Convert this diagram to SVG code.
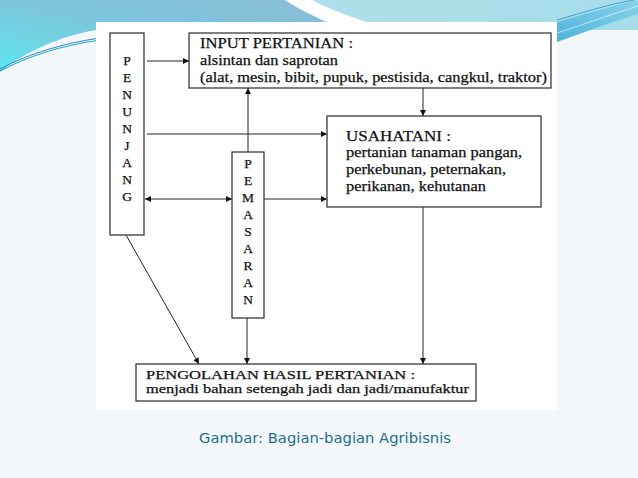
<svg xmlns="http://www.w3.org/2000/svg" width="638" height="478" viewBox="0 0 638 478">
<style>
.box{fill:#fff;stroke:#3a3a3a;stroke-width:1.3}
.t{font-family:"Liberation Serif","Times New Roman",serif;font-size:14.5px;fill:#111;stroke:#111;stroke-width:0.25}
.s{font-size:13.5px}
.v{font-family:"Liberation Serif","Times New Roman",serif;font-size:13.5px;fill:#111;stroke:#111;stroke-width:0.25;text-anchor:middle}
.c{stroke:#222;stroke-width:1;fill:none}
.cap{font-family:"DejaVu Sans",Verdana,sans-serif;font-size:13.5px;fill:#1f6f8c}
</style>
<defs>
<linearGradient id="gl" x1="0" y1="1" x2="1" y2="0">
<stop offset="0" stop-color="#5ee6ef"/>
<stop offset="0.5" stop-color="#7cc6dc"/>
<stop offset="1" stop-color="#8dbcd6"/>
</linearGradient>
<linearGradient id="gr" x1="0" y1="0" x2="1" y2="0">
<stop offset="0" stop-color="#b6e2ec"/>
<stop offset="1" stop-color="#a6dde9"/>
</linearGradient>
<linearGradient id="gs" x1="0" y1="1" x2="1" y2="0">
<stop offset="0" stop-color="#4fb3dc"/>
<stop offset="1" stop-color="#86d3ea"/>
</linearGradient>
<marker id="ah" viewBox="0 0 10 10" refX="10" refY="5" markerWidth="7" markerHeight="6" markerUnits="userSpaceOnUse" orient="auto-start-reverse">
<path d="M0,0 L10,5 L0,10 Z" fill="#111"/>
</marker>
</defs>
<rect width="638" height="478" fill="#f3f7fa"/>
<rect x="0" y="0" width="638" height="30" fill="url(#gr)"/>
<path d="M0,0 H290 C300,8 320,20 340,30 L96,30 C60,36 25,52 0,72 Z" fill="url(#gl)"/>
<path d="M285,0 H312 C330,10 360,20 390,30 L350,30 C320,20 300,10 285,0 Z" fill="#ffffff"/>
<path d="M0,71 C30,55 65,45 100,40" stroke="#1fb2b0" stroke-width="1.2" fill="none"/>
<path d="M0,69 C30,53 65,43 100,38" stroke="#3b7fd2" stroke-width="1" fill="none"/>
<path d="M557,22 C585,14 612,6 638,0 L638,14 C612,22 585,32 557,42 Z" fill="url(#gs)"/>
<path d="M557,20 C585,12 610,4 634,0" stroke="#3f9fd6" stroke-width="1" fill="none"/>
<path d="M557,33 C585,24 612,14 638,6" stroke="#ffffff" stroke-width="1" fill="none" opacity="0.6"/>
<rect x="96" y="22" width="461" height="388" fill="#ffffff"/>
<g id="connectors">
<path class="c" d="M147,61 H189" marker-end="url(#ah)"/>
<path class="c" d="M147,134 H327" marker-end="url(#ah)"/>
<path class="c" d="M145,199 H232" marker-start="url(#ah)" marker-end="url(#ah)"/>
<path class="c" d="M264,199 H327" marker-end="url(#ah)"/>
<path class="c" d="M248,152 V88" marker-end="url(#ah)"/>
<path class="c" d="M423,88 V116" marker-end="url(#ah)"/>
<path class="c" d="M423,207 V364" marker-end="url(#ah)"/>
<path class="c" d="M247,318 V364" marker-end="url(#ah)"/>
<path class="c" d="M126,235 L199,364" marker-end="url(#ah)"/>
</g>
<g id="penunjang">
<rect class="box" x="110" y="33" width="34" height="202"/>
<text class="v" x="127" y="64.5">P</text>
<text class="v" x="127" y="81.5">E</text>
<text class="v" x="127" y="98.5">N</text>
<text class="v" x="127" y="115.5">U</text>
<text class="v" x="127" y="132.5">N</text>
<text class="v" x="127" y="149.5">J</text>
<text class="v" x="127" y="166.5">A</text>
<text class="v" x="127" y="183.5">N</text>
<text class="v" x="127" y="200.5">G</text>
</g>
<g id="input">
<rect class="box" x="189" y="33" width="362" height="55"/>
<text class="t" x="200" y="47.5" textLength="153" lengthAdjust="spacingAndGlyphs">INPUT PERTANIAN :</text>
<text class="t" x="200" y="64.5" textLength="138" lengthAdjust="spacingAndGlyphs">alsintan dan saprotan</text>
<text class="t" x="200" y="81.5" textLength="347" lengthAdjust="spacingAndGlyphs">(alat, mesin, bibit, pupuk, pestisida, cangkul, traktor)</text>
</g>
<g id="usahatani">
<rect class="box" x="327" y="116" width="214" height="91"/>
<text class="t" x="346" y="140.5" textLength="105" lengthAdjust="spacingAndGlyphs">USAHATANI :</text>
<text class="t" x="346" y="157" textLength="176" lengthAdjust="spacingAndGlyphs">pertanian tanaman pangan,</text>
<text class="t" x="346" y="174" textLength="160" lengthAdjust="spacingAndGlyphs">perkebunan, peternakan,</text>
<text class="t" x="346" y="190.5" textLength="140" lengthAdjust="spacingAndGlyphs">perikanan, kehutanan</text>
</g>
<g id="pemasaran">
<rect class="box" x="232" y="152" width="32" height="166"/>
<text class="v" x="248" y="167.5">P</text>
<text class="v" x="248" y="184.5">E</text>
<text class="v" x="248" y="201.5">M</text>
<text class="v" x="248" y="218.5">A</text>
<text class="v" x="248" y="235.5">S</text>
<text class="v" x="248" y="252.5">A</text>
<text class="v" x="248" y="269.5">R</text>
<text class="v" x="248" y="286.5">A</text>
<text class="v" x="248" y="303.5">N</text>
</g>
<g id="pengolahan">
<rect class="box" x="136" y="364" width="340" height="37"/>
<text class="t s" x="146" y="379" textLength="269" lengthAdjust="spacingAndGlyphs">PENGOLAHAN HASIL PERTANIAN :</text>
<text class="t s" x="146" y="392.5" textLength="323" lengthAdjust="spacingAndGlyphs">menjadi bahan setengah jadi dan jadi/manufaktur</text>
</g>
<text class="cap" x="199" y="442.5" textLength="252" lengthAdjust="spacingAndGlyphs">Gambar: Bagian-bagian Agribisnis</text>
</svg>
